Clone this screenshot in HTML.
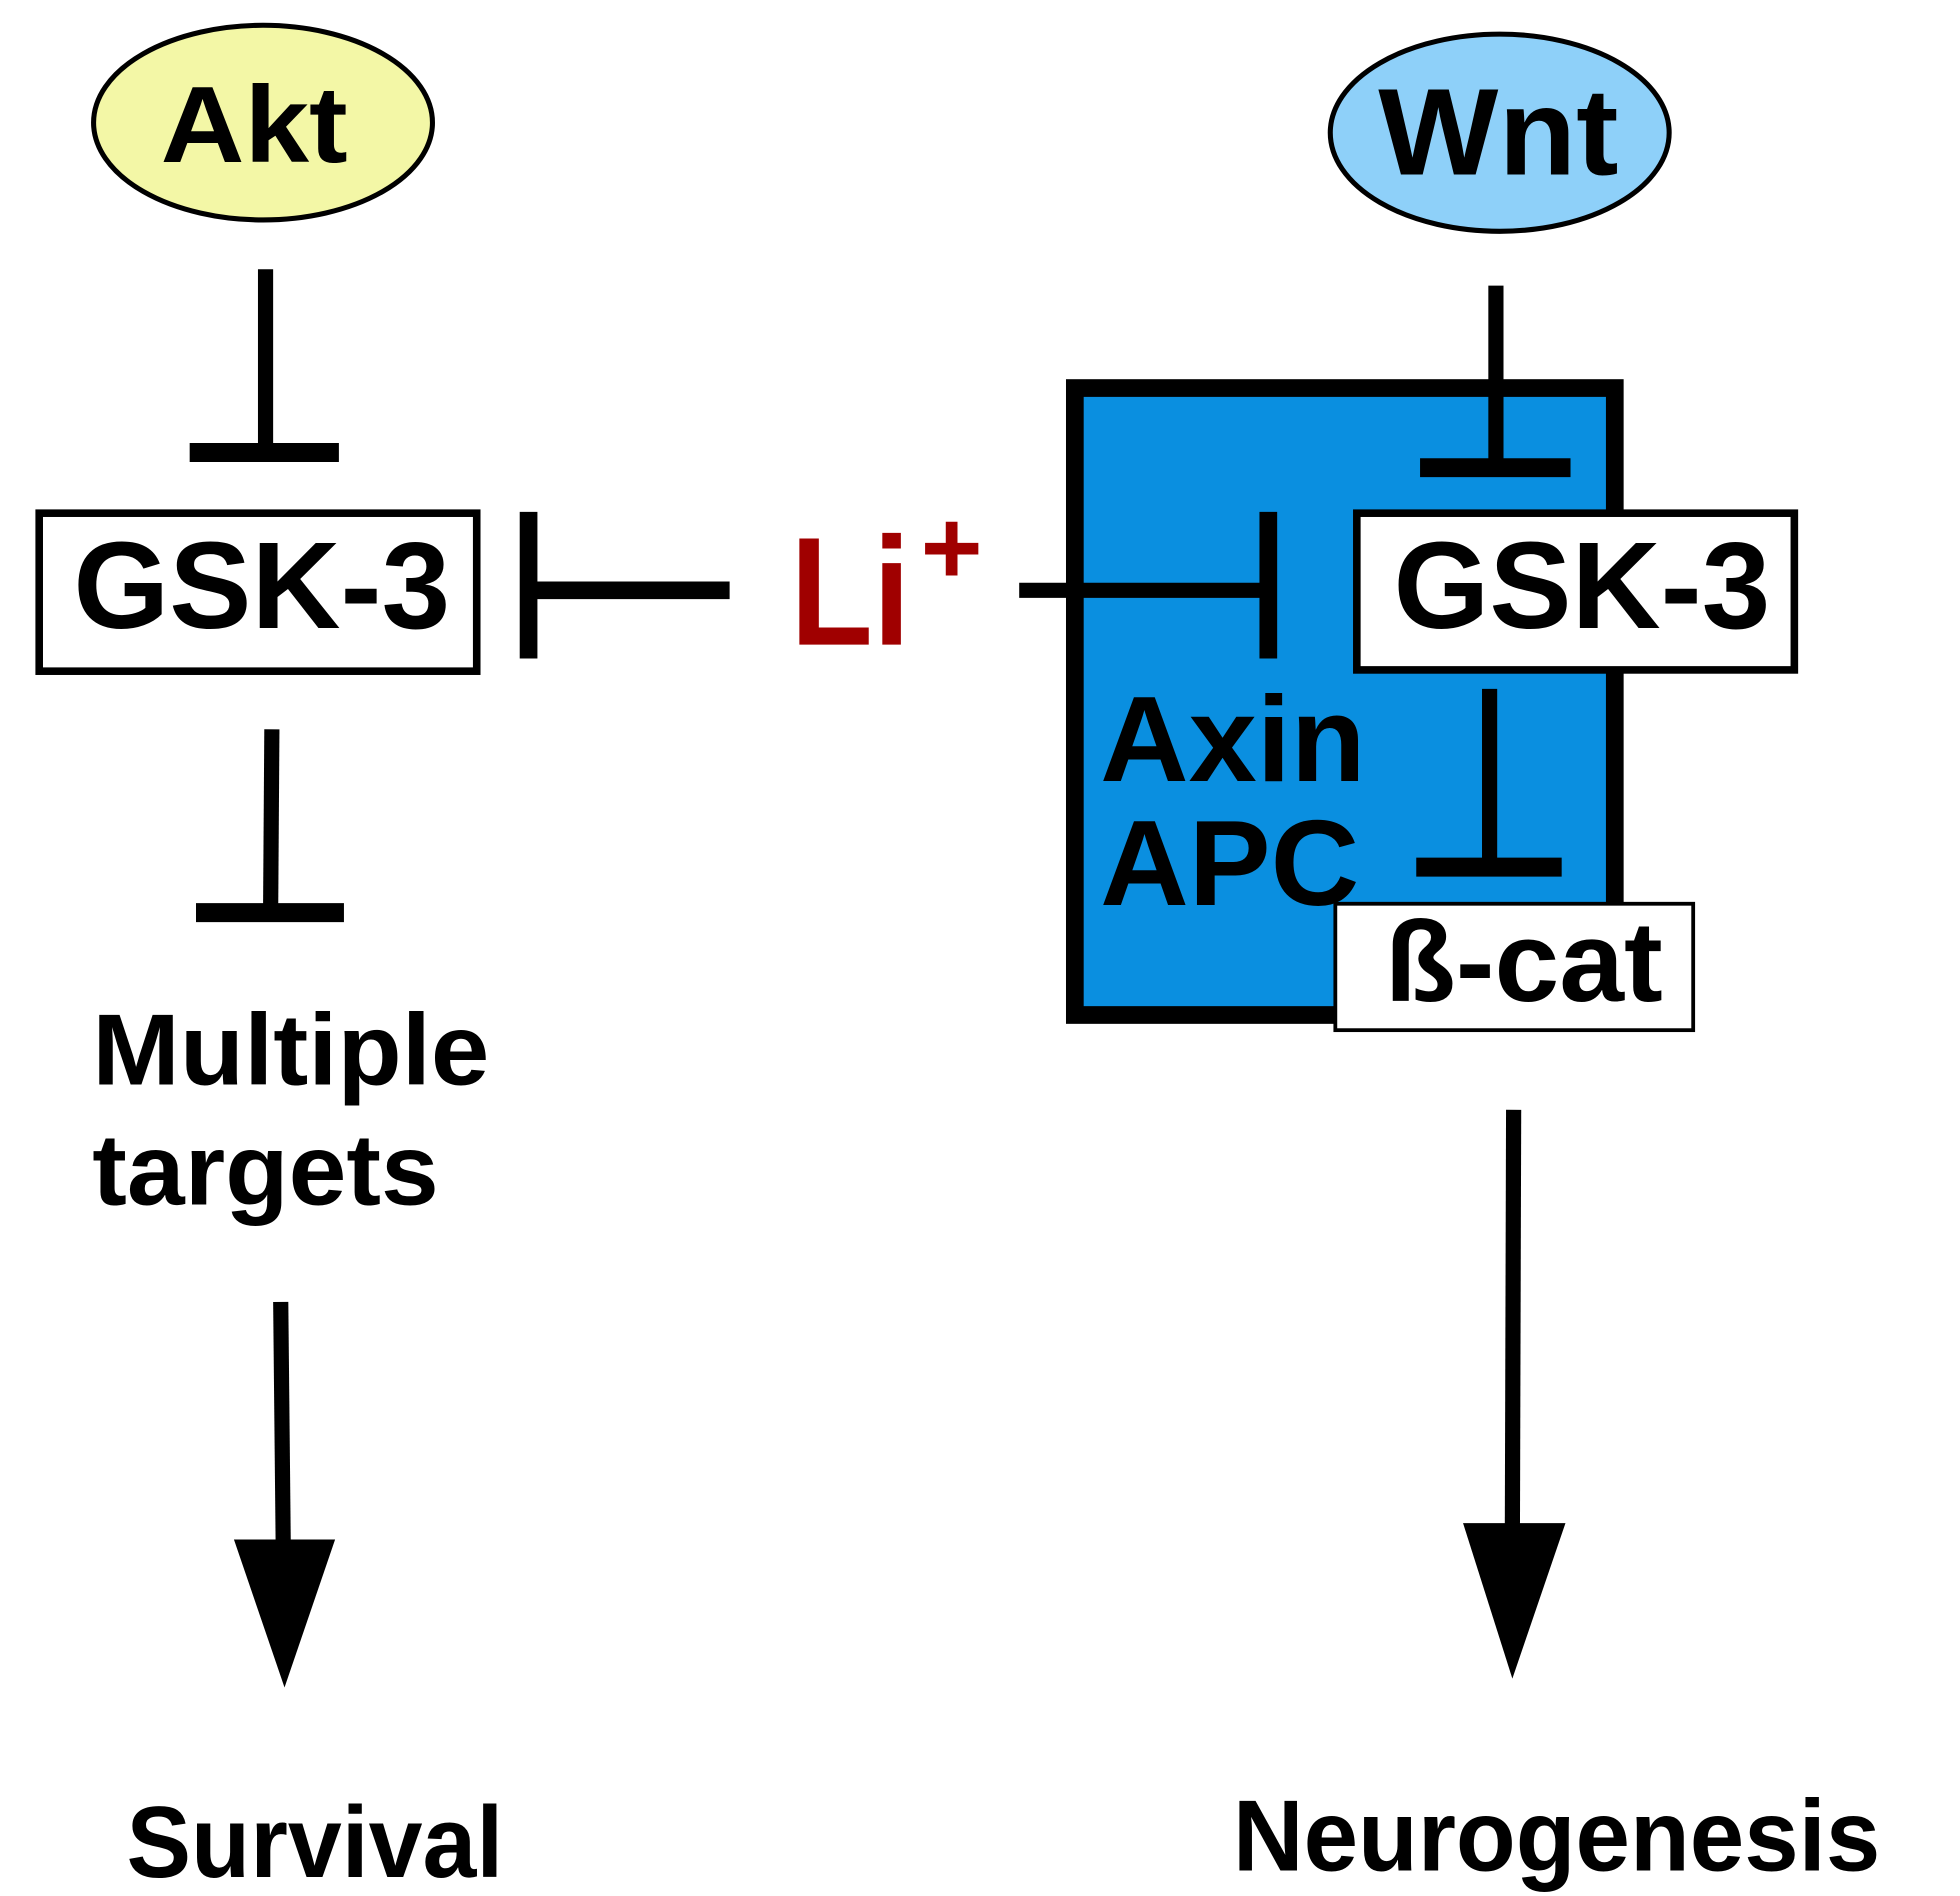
<!DOCTYPE html>
<html><head><meta charset="utf-8"><style>html,body{margin:0;padding:0;background:#fff;}svg{display:block}</style></head>
<body>
<svg width="1960" height="1896" viewBox="0 0 1550 1500" preserveAspectRatio="none" xmlns="http://www.w3.org/2000/svg" font-family="Liberation Sans, sans-serif" font-weight="bold">
<ellipse cx="208" cy="97" rx="134" ry="77" fill="#f3f7a6" stroke="#000" stroke-width="4"/>
<text x="127" y="128" font-size="86" textLength="148" lengthAdjust="spacingAndGlyphs">Akt</text>
<ellipse cx="1186" cy="105" rx="134" ry="78" fill="#8ed0f9" stroke="#000" stroke-width="4"/>
<text x="1090" y="138" font-size="98" textLength="190" lengthAdjust="spacingAndGlyphs">Wnt</text>
<g stroke="#000" fill="none">
<line x1="210" y1="213" x2="210" y2="358" stroke-width="12"/>
<line x1="150" y1="358" x2="268" y2="358" stroke-width="15"/>
<rect x="31" y="406" width="346" height="125" fill="#fff" stroke-width="6"/>
<line x1="418" y1="405" x2="418" y2="521" stroke-width="14"/>
<line x1="418" y1="467" x2="577" y2="467" stroke-width="14"/>
<rect x="850" y="307" width="427" height="496" fill="#0a8fe0" stroke-width="14"/>
<line x1="806" y1="467" x2="1003" y2="467" stroke-width="12"/>
<line x1="1003" y1="405" x2="1003" y2="521" stroke-width="14"/>
<line x1="1183" y1="226" x2="1183" y2="370" stroke-width="12"/>
<line x1="1123" y1="370" x2="1242" y2="370" stroke-width="15"/>
<rect x="1073" y="406" width="346" height="124" fill="#fff" stroke-width="6"/>
<line x1="1178" y1="545" x2="1178" y2="686" stroke-width="12"/>
<line x1="1120" y1="686" x2="1235" y2="686" stroke-width="15"/>
<rect x="1056" y="715" width="283" height="100" fill="#fff" stroke-width="3"/>
<line x1="215" y1="577" x2="214" y2="722" stroke-width="12"/>
<line x1="155" y1="722" x2="272" y2="722" stroke-width="15"/>
<line x1="222" y1="1030" x2="224" y2="1225" stroke-width="12"/>
<line x1="1197" y1="878" x2="1196" y2="1215" stroke-width="12"/>
</g>
<polygon points="185,1218 265,1218 225,1335" fill="#000"/>
<polygon points="1157,1205 1238,1205 1196,1328" fill="#000"/>
<text x="58" y="497" font-size="98" textLength="298" lengthAdjust="spacingAndGlyphs">GSK-3</text>
<text x="1102" y="497" font-size="98" textLength="298" lengthAdjust="spacingAndGlyphs">GSK-3</text>
<text x="625" y="510" font-size="122" fill="#a00000" textLength="95" lengthAdjust="spacingAndGlyphs">Li</text>
<text x="728" y="462" font-size="84" fill="#a00000">+</text>
<text x="870" y="618" font-size="96" textLength="210" lengthAdjust="spacingAndGlyphs">Axin</text>
<text x="870" y="716" font-size="96" textLength="205" lengthAdjust="spacingAndGlyphs">APC</text>
<text x="1095" y="792" font-size="90" textLength="220" lengthAdjust="spacingAndGlyphs">ß-cat</text>
<text x="73" y="858" font-size="80" textLength="314" lengthAdjust="spacingAndGlyphs">Multiple</text>
<text x="73" y="953" font-size="80" textLength="274" lengthAdjust="spacingAndGlyphs">targets</text>
<text x="100" y="1485" font-size="80" textLength="298" lengthAdjust="spacingAndGlyphs">Survival</text>
<text x="975" y="1480" font-size="80" textLength="512" lengthAdjust="spacingAndGlyphs">Neurogenesis</text>
</svg>
</body></html>
